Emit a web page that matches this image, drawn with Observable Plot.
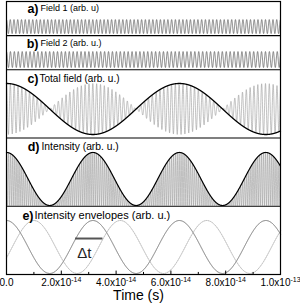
<!DOCTYPE html>
<html><head><meta charset="utf-8">
<script src="https://cdn.jsdelivr.net/npm/d3@7"></script>
<script src="https://cdn.jsdelivr.net/npm/@observablehq/plot@0.6"></script>
<style>
html,body{margin:0;padding:0;background:#fff;}
#chart svg{display:block;overflow:visible;font-family:"Liberation Sans",Arial,sans-serif;}
</style></head><body><div id="chart"></div>
<script>
// ---- data ----
const timeMax = 1e-13;                       // s
const xTicks = [0, 2e-14, 4e-14, 6e-14, 8e-14, 1e-13];
const xTickLabels = ["0.0", "2.0x10^-14", "4.0x10^-14", "6.0x10^-14", "8.0x10^-14", "1.0x10^-13"];
const minorTicks = [1e-14, 3e-14, 5e-14, 7e-14, 9e-14];
const panelLetters = ["a)", "b)", "c)", "d)", "e)"];
const panelTitles = ["Field 1 (arb. u)", "Field 2 (arb. u.)", "Total field (arb. u.)", "Intensity (arb. u.)", "Intensity envelopes (arb. u.)"];
const field1Freq = 7.30e14;                  // Hz
const field2Freq = 6.983e14;                 // Hz
const envelopeDelay = 1.0e-14;               // Δt (s)
const deltaTBarStart = 2.52e-14;             // s
const deltaTBarLevel = 0.66;                 // fraction of envelope max
const deltaTLabel = "Δt";
const xLabel = "Time (s)";

// ---- layout (positions/sizes, kept apart from the data) ----
const pxPerUnit = 68.25;
const panelHeights = [0.5, 0.5, 1, 1, 1];
let acc = 4;
const bands = panelHeights.map(h => { const top = acc; acc -= h; return {top, bottom: acc, h}; });
const dataBands = [[0.06, 0.47], [0.066, 0.533], [0.051, 0.799], [0.011, 0.788], [0.015, 0.791]];
const toY = (p, v) => bands[p].bottom + (dataBands[p][0] + v * (dataBands[p][1] - dataBands[p][0])) * bands[p].h;
const letterRightPx = [38, 38, 38, 39, 33];
const titleStartPx = [40, 40, 39, 41, 34];
const labelCenterPx = [8, 43, 78, 146, 215];
const titleFont = [9, 9, 10, 10.3, 11];
const marginLeft = 6, marginTop = 1;

// ---- series ----
const N = 4000;
const times = d3.range(N + 1).map(i => i * timeMax / N);
const beat = field1Freq - field2Freq;
const c1 = t => Math.cos(2 * Math.PI * field1Freq * t);
const c2 = t => Math.cos(2 * Math.PI * field2Freq * t);
const field1 = times.map(t => ({t, y: toY(0, (c1(t) + 1) / 2)}));
const field2 = times.map(t => ({t, y: toY(1, (c2(t) + 1) / 2)}));
const total = times.map(t => ({t, y: toY(2, ((c1(t) + c2(t)) / 2 + 1) / 2)}));
const totalEnv = times.map(t => ({t, y: toY(2, (Math.cos(Math.PI * beat * t) + 1) / 2)}));
const intensity = times.map(t => ({t, y: toY(3, ((c1(t) + c2(t)) / 2) ** 2)}));
const intensityEnv = times.map(t => ({t, y: toY(3, Math.cos(Math.PI * beat * t) ** 2)}));
const envA = times.map(t => ({t, y: toY(4, Math.cos(Math.PI * beat * t) ** 2)}));
const envB = times.map(t => ({t, y: toY(4, Math.cos(Math.PI * beat * (t - envelopeDelay)) ** 2)}));

const labelMarks = [];
panelLetters.forEach((L, i) => {
  const topPx = marginTop + (4 - bands[i].top) * pxPerUnit;
  labelMarks.push(Plot.text([L], {x: 0, y: bands[i].top, text: d => d, dx: letterRightPx[i] - marginLeft, dy: labelCenterPx[i] - topPx,
    textAnchor: "end", lineAnchor: "middle", fontWeight: "bold", fontSize: 12.5, fill: "#000"}));
  labelMarks.push(Plot.text([panelTitles[i]], {x: 0, y: bands[i].top, text: d => d, dx: titleStartPx[i] - marginLeft, dy: labelCenterPx[i] - topPx,
    textAnchor: "start", lineAnchor: "middle", fontSize: titleFont[i], fill: "#000"}));
});

const barY = toY(4, deltaTBarLevel);
const chart = Plot.plot({
  width: 300, height: 304,
  marginLeft, marginRight: 20, marginTop, marginBottom: 30,
  style: {fontSize: "10px", fontFamily: "Liberation Sans, Arial, sans-serif", background: "#fff"},
  x: {domain: [0, timeMax], ticks: xTicks, tickFormat: d => xTickLabels[xTicks.indexOf(d)], tickSize: 0, tickPadding: 4, label: null},
  y: {domain: [0, 4], axis: null},
  marks: [
    Plot.line(field1, {x: "t", y: "y", stroke: "#555", strokeWidth: 0.7}),
    Plot.line(field2, {x: "t", y: "y", stroke: "#555", strokeWidth: 0.7}),
    Plot.line(total, {x: "t", y: "y", stroke: "#999", strokeWidth: 0.6}),
    Plot.line(totalEnv, {x: "t", y: "y", stroke: "#000", strokeWidth: 1.3}),
    Plot.line(intensity, {x: "t", y: "y", stroke: "#999", strokeWidth: 0.6}),
    Plot.line(intensityEnv, {x: "t", y: "y", stroke: "#000", strokeWidth: 1.2}),
    Plot.line(envA, {x: "t", y: "y", stroke: "#555", strokeWidth: 0.8}),
    Plot.line(envB, {x: "t", y: "y", stroke: "#999", strokeWidth: 0.8, strokeDasharray: "1,1.2"}),
    Plot.ruleY([{y: barY, x1: deltaTBarStart, x2: deltaTBarStart + envelopeDelay}], {y: "y", x1: "x1", x2: "x2", stroke: "#555", strokeWidth: 2}),
    Plot.text([deltaTLabel], {x: deltaTBarStart + envelopeDelay / 2, y: barY, text: d => d, dx: -5, dy: 15, fontSize: 15, fill: "#222"}),
    Plot.ruleY(bands.slice(0, 4).map(b => b.bottom), {stroke: "#000", strokeWidth: 1.2}),
    Plot.ruleX(xTicks, {y1: 0, y2: 0.05, stroke: "#000"}),
    Plot.ruleX(minorTicks, {y1: 0, y2: 0.03, stroke: "#000"}),
    Plot.frame({stroke: "#000", strokeWidth: 1.2}),
    Plot.text([xLabel], {frameAnchor: "bottom", lineAnchor: "middle", text: d => d, dx: -5, dy: 21, fontSize: 14, fill: "#000"}),
    ...labelMarks
  ]
});
document.getElementById("chart").appendChild(chart);
chart.querySelectorAll('g[aria-label="x-axis tick label"] text').forEach(el => {
  const s = el.textContent;
  if (s.includes("^")) {
    const [base, sup] = s.split("^");
    el.textContent = base;
    const ts = document.createElementNS("http://www.w3.org/2000/svg", "tspan");
    ts.setAttribute("dy", "-0.5em");
    ts.setAttribute("font-size", "7");
    ts.textContent = sup;
    el.appendChild(ts);
  }
});
</script></body></html>
